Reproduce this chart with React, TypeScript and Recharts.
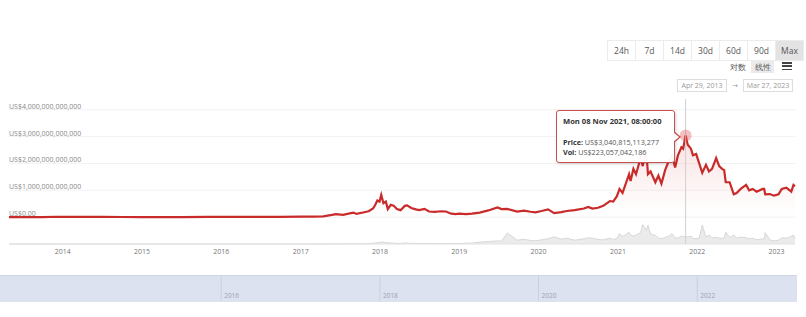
import React from "react";
import {
  ComposedChart,
  Area,
  Line,
  XAxis,
  YAxis,
  CartesianGrid,
  Tooltip,
  ReferenceLine,
} from "recharts";

// total crypto market cap (trillion US$) and volume (billion US$)
const dates = [
  "2013-04-29", "2013-07-01", "2013-10-01", "2013-12-04", "2014-01-01", "2014-04-01", "2014-07-01", "2014-10-01",
  "2015-01-01", "2015-04-01", "2015-07-01", "2015-11-04", "2016-01-01", "2016-06-18", "2016-10-01", "2017-01-01",
  "2017-03-01", "2017-04-15", "2017-05-25", "2017-06-12", "2017-07-15", "2017-08-15", "2017-09-01", "2017-09-15",
  "2017-10-15", "2017-11-10", "2017-11-30", "2017-12-10", "2017-12-20", "2017-12-30", "2018-01-07", "2018-01-17",
  "2018-01-28", "2018-02-06", "2018-02-20", "2018-03-05", "2018-03-20", "2018-04-06", "2018-04-25", "2018-05-06",
  "2018-05-25", "2018-06-15", "2018-07-01", "2018-07-25", "2018-08-15", "2018-09-10", "2018-10-10", "2018-11-01",
  "2018-11-25", "2018-12-15", "2019-01-01", "2019-02-01", "2019-03-01", "2019-04-05", "2019-05-15", "2019-06-26",
  "2019-07-15", "2019-08-10", "2019-09-25", "2019-10-26", "2019-11-25", "2019-12-18", "2020-01-15", "2020-02-14",
  "2020-03-13", "2020-04-15", "2020-05-10", "2020-06-15", "2020-07-28", "2020-08-17", "2020-09-05", "2020-10-01",
  "2020-10-25", "2020-11-25", "2020-12-10", "2020-12-27", "2021-01-08", "2021-01-22", "2021-02-08", "2021-02-21",
  "2021-02-28", "2021-03-13", "2021-03-25", "2021-04-15", "2021-04-25", "2021-05-11", "2021-05-19", "2021-05-31",
  "2021-06-22", "2021-07-06", "2021-07-20", "2021-08-06", "2021-08-23", "2021-09-07", "2021-09-21", "2021-10-04",
  "2021-10-20", "2021-10-28", "2021-11-08T08:00", "2021-11-18", "2021-12-03", "2021-12-12", "2021-12-27", "2022-01-10",
  "2022-01-24", "2022-02-10", "2022-02-24", "2022-03-10", "2022-03-29", "2022-04-12", "2022-04-25", "2022-05-05",
  "2022-05-12", "2022-05-30", "2022-06-18", "2022-07-01", "2022-07-20", "2022-08-14", "2022-08-28", "2022-09-13",
  "2022-10-01", "2022-10-29", "2022-11-05", "2022-11-10", "2022-12-01", "2022-12-20", "2023-01-10", "2023-01-25",
  "2023-02-15", "2023-03-10", "2023-03-20", "2023-03-27",
];

const prices = [
  0.0015, 0.0011, 0.0016, 0.015, 0.01, 0.0065, 0.0085, 0.0055,
  0.0045, 0.0035, 0.0045, 0.0065, 0.007, 0.012, 0.011, 0.018,
  0.022, 0.03, 0.085, 0.115, 0.085, 0.14, 0.17, 0.12,
  0.175, 0.22, 0.32, 0.45, 0.62, 0.58, 0.83, 0.52,
  0.58, 0.3, 0.46, 0.43, 0.3, 0.26, 0.42, 0.44,
  0.34, 0.29, 0.26, 0.31, 0.21, 0.2, 0.22, 0.21,
  0.13, 0.11, 0.13, 0.11, 0.13, 0.17, 0.25, 0.36,
  0.3, 0.31, 0.21, 0.24, 0.2, 0.18, 0.23, 0.29,
  0.15, 0.19, 0.23, 0.26, 0.32, 0.38, 0.32, 0.35,
  0.42, 0.6, 0.58, 0.78, 1.05, 0.9, 1.3, 1.6,
  1.35, 1.8, 1.6, 2.2, 1.9, 2.5, 1.6, 1.7,
  1.3, 1.55, 1.25, 1.75, 2.1, 2.3, 1.85, 2.3,
  2.6, 2.55, 3.040815113277, 2.7, 2.55, 2.3, 2.35, 2.0,
  1.65, 1.95, 1.7, 1.8, 2.2, 1.9, 1.8, 1.75,
  1.3, 1.3, 0.85, 0.9, 1.05, 1.2, 1.0, 1.05,
  0.95, 1.05, 1.05, 0.85, 0.86, 0.8, 0.85, 1.05,
  1.1, 0.95, 1.2, 1.15,
];

const volumes = [
  0.02, 0.01, 0.01, 0.1, 0.05, 0.05, 0.03, 0.03,
  0.03, 0.02, 0.03, 0.08, 0.05, 0.15, 0.1, 0.3,
  0.4, 0.6, 3, 4, 2.5, 5, 5, 4,
  5, 12, 18, 30, 45, 35, 60, 55,
  30, 45, 25, 22, 18, 14, 28, 24,
  18, 15, 13, 18, 14, 13, 11, 10,
  18, 14, 15, 20, 25, 55, 70, 90,
  80, 320, 110, 140, 100, 95, 120, 150,
  210, 140, 170, 110, 150, 180, 170, 130,
  120, 170, 130, 160, 300, 220, 280, 340,
  260, 230, 260, 330, 560, 400, 540, 290,
  250, 170, 150, 190, 230, 300, 180, 170,
  230, 210, 223.057042186, 200, 230, 160, 150, 170,
  550, 200, 260, 180, 190, 170, 160, 180,
  340, 190, 260, 170, 200, 180, 150, 170,
  120, 150, 140, 330, 120, 90, 110, 180,
  170, 220, 260, 150,
];

const yearLabels = [2014, 2015, 2016, 2017, 2018, 2019, 2020, 2021, 2022, 2023];
const navYears = [2016, 2018, 2020, 2022];
const priceTicks = [0, 1, 2, 3, 4];
const rangeButtons = ["24h", "7d", "14d", "30d", "60d", "90d", "Max"];
const scaleButtons = ["对数", "线性"];
const tipDate = "2021-11-08T08:00";

const toTs = (s: string) => Date.parse(s.length > 10 ? s + ":00Z" : s);

const data = dates.map((d, i) => ({ t: toTs(d), price: prices[i], vol: volumes[i] }));
const tipIndex = data.findIndex((d) => d.t === toTs(tipDate));
const yearTicks = yearLabels.map((y) => Date.UTC(y, 0, 1));

const DAYS = ["Sun", "Mon", "Tue", "Wed", "Thu", "Fri", "Sat"];
const MONTHS = ["Jan", "Feb", "Mar", "Apr", "May", "Jun", "Jul", "Aug", "Sep", "Oct", "Nov", "Dec"];
const pad = (n: number) => String(n).padStart(2, "0");

function fmtDate(ts: number) {
  const d = new Date(ts);
  return `${DAYS[d.getUTCDay()]} ${pad(d.getUTCDate())} ${MONTHS[d.getUTCMonth()]} ${d.getUTCFullYear()}, ${pad(
    d.getUTCHours()
  )}:${pad(d.getUTCMinutes())}:${pad(d.getUTCSeconds())}`;
}

const usd = (v: number) => "US$" + Math.round(v).toLocaleString("en-US");

const FONT = '"Open Sans", "DejaVu Sans", sans-serif';
const RED = "#c92a2a";

function TipBox({ active, payload }: any) {
  if (!active || !payload || !payload.length) return null;
  const row = payload[0].payload;
  return (
    <div
      style={{
        position: "relative",
        width: 105,
        height: 41,
        padding: "5px 6px",
        background: "rgba(255,255,255,0.96)",
        border: "1px solid #c9514f",
        borderRadius: 3,
        boxShadow: "1px 1px 3px rgba(0,0,0,0.18)",
        fontFamily: FONT,
        fontSize: 7.2,
        color: "#555",
        lineHeight: "10px",
      }}
    >
      <div style={{ fontWeight: 700, color: "#333", fontSize: 7.6 }}>{fmtDate(row.t)}</div>
      <div style={{ height: 11 }} />
      <div>
        <b style={{ color: "#333" }}>Price:</b> {usd(row.price * 1e12)}
      </div>
      <div>
        <b style={{ color: "#333" }}>Vol:</b> {usd(row.vol * 1e9)}
      </div>
      <div
        style={{
          position: "absolute",
          right: -7,
          top: 20,
          width: 0,
          height: 0,
          borderTop: "6px solid transparent",
          borderBottom: "6px solid transparent",
          borderLeft: "7px solid #c9514f",
        }}
      />
      <div
        style={{
          position: "absolute",
          right: -5,
          top: 21,
          width: 0,
          height: 0,
          borderTop: "5px solid transparent",
          borderBottom: "5px solid transparent",
          borderLeft: "6px solid #fff",
        }}
      />
    </div>
  );
}

function PriceTick({ x, y, payload }: any) {
  const v = payload.value as number;
  const txt = v === 0 ? "US$0.00" : usd(v * 1e12);
  return (
    <text x={x} y={y - 1} textAnchor="start" fontSize={7} fill="#888" fontFamily={FONT}>
      {txt}
    </text>
  );
}

function YearTick({ x, y, payload }: any) {
  return (
    <text x={x} y={y + 10} textAnchor="middle" fontSize={7} fill="#777" fontFamily={FONT}>
      {new Date(payload.value).getUTCFullYear()}
    </text>
  );
}

export default function App() {
  return (
    <div
      style={{
        position: "absolute",
        left: 0,
        top: 0,
        width: 806,
        height: 317,
        background: "#fff",
        overflow: "hidden",
        fontFamily: FONT,
      }}
    >
      {/* range buttons */}
      <div
        style={{
          position: "absolute",
          left: 607,
          top: 40,
          height: 19,
          display: "flex",
          border: "1px solid #ececec",
        }}
      >
        {rangeButtons.map((b, i) => (
          <div
            key={b}
            style={{
              width: 27,
              height: 19,
              lineHeight: "19px",
              textAlign: "center",
              fontSize: 8.5,
              color: "#555",
              background: b === "Max" ? "#e3e3e3" : "#fff",
              borderLeft: i ? "1px solid #ececec" : "none",
            }}
          >
            {b}
          </div>
        ))}
      </div>
      <div style={{ position: "absolute", left: 726, top: 61, display: "flex", alignItems: "center" }}>
        {scaleButtons.map((b, i) => (
          <div
            key={b}
            style={{
              width: 23,
              height: 12,
              lineHeight: "12px",
              textAlign: "center",
              fontSize: 8,
              color: "#555",
              background: i === 1 ? "#ebebeb" : "transparent",
              marginRight: 2,
            }}
          >
            {b}
          </div>
        ))}
        <div style={{ marginLeft: 6, width: 10 }}>
          {[0, 1, 2].map((k) => (
            <div key={k} style={{ height: 1.5, background: "#444", marginBottom: 1.7 }} />
          ))}
        </div>
      </div>
      <div style={{ position: "absolute", left: 677, top: 79, display: "flex", alignItems: "center" }}>
        <div
          style={{
            width: 48,
            height: 11,
            lineHeight: "11px",
            border: "1px solid #ddd",
            fontSize: 7,
            color: "#999",
            textAlign: "center",
          }}
        >
          Apr 29, 2013
        </div>
        <div style={{ width: 16, textAlign: "center", fontSize: 7, color: "#999" }}>→</div>
        <div
          style={{
            width: 48,
            height: 11,
            lineHeight: "11px",
            border: "1px solid #ddd",
            fontSize: 7,
            color: "#999",
            textAlign: "center",
          }}
        >
          Mar 27, 2023
        </div>
      </div>

      {/* main chart */}
      <div style={{ position: "absolute", left: 0, top: 0 }}>
        <ComposedChart width={806} height={265} data={data} margin={{ top: 99, right: 11, bottom: 0, left: 9 }}>
          <defs>
            <linearGradient id="priceFill" x1="0" y1="0" x2="0" y2="1">
              <stop offset="0%" stopColor="#e04848" stopOpacity={0.28} />
              <stop offset="70%" stopColor="#e04848" stopOpacity={0.07} />
              <stop offset="100%" stopColor="#e04848" stopOpacity={0} />
            </linearGradient>
          </defs>
          <CartesianGrid yAxisId="price" vertical={false} stroke="#f2f2f2" horizontalValues={priceTicks} />
          <XAxis
            dataKey="t"
            type="number"
            scale="time"
            domain={["dataMin", "dataMax"]}
            ticks={yearTicks}
            interval={0}
            height={21}
            tickLine={false}
            tickSize={0}
            tickMargin={0}
            axisLine={{ stroke: "#e2e2e2" }}
            tick={<YearTick />}
          />
          <YAxis
            yAxisId="price"
            type="number"
            domain={[-1, 4.4]}
            ticks={priceTicks}
            interval={0}
            mirror
            width={90}
            axisLine={false}
            tickLine={false}
            tickSize={0}
            tickMargin={0}
            tick={<PriceTick />}
            allowDataOverflow
          />
          <YAxis yAxisId="vol" type="number" domain={[0, 4200]} hide />
          <Tooltip
            active
            defaultIndex={tipIndex}
            position={{ x: 556, y: 110 }}
            content={<TipBox />}
            cursor={{ stroke: "#d0d0d0", strokeWidth: 1 }}
            isAnimationActive={false}
            wrapperStyle={{ outline: "none" }}
          />
          <Area
            yAxisId="price"
            dataKey="price"
            type="linear"
            stroke={RED}
            strokeWidth={2.2}
            fill="url(#priceFill)"
            dot={false}
            activeDot={{ r: 6, fill: "rgba(224,72,72,0.35)", stroke: "none" }}
            isAnimationActive={false}
          />
          <Area
            yAxisId="vol"
            dataKey="vol"
            type="linear"
            stroke="#d8d8d8"
            strokeWidth={1}
            fill="#e4e4e4"
            fillOpacity={0.75}
            dot={false}
            activeDot={false}
            isAnimationActive={false}
          />
        </ComposedChart>
      </div>

      {/* navigator */}
      <div
        style={{
          position: "absolute",
          left: 0,
          top: 275,
          width: 797,
          height: 26,
          background: "#dce2f0",
          borderTop: "1px solid #cdd4e4",
        }}
      />
      <div style={{ position: "absolute", left: 0, top: 276 }}>
        <ComposedChart width={806} height={25} data={data} margin={{ top: 0, right: 11, bottom: 0, left: 9 }}>
          <XAxis dataKey="t" type="number" scale="time" domain={["dataMin", "dataMax"]} hide />
          <YAxis type="number" domain={[0, 4]} hide />
          <Line dataKey="price" stroke="transparent" dot={false} activeDot={false} isAnimationActive={false} />
          {navYears.map((y) => (
            <ReferenceLine
              key={y}
              x={Date.UTC(y, 0, 1)}
              stroke="#c9d0e2"
              label={{
                value: String(y),
                position: "insideBottomLeft",
                fill: "#9aa1b3",
                fontSize: 6.5,
                fontFamily: FONT,
                offset: 3,
              }}
            />
          ))}
        </ComposedChart>
      </div>
    </div>
  );
}
